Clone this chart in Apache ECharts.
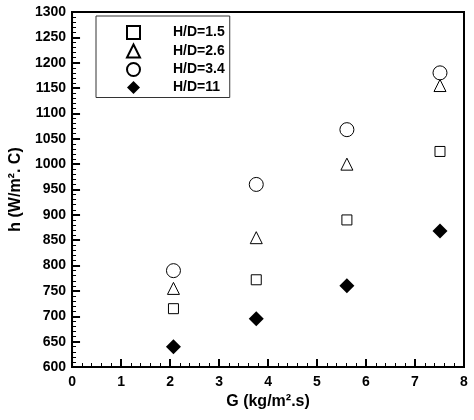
<!DOCTYPE html>
<html>
<head>
<meta charset="utf-8">
<script src="https://cdn.jsdelivr.net/npm/echarts@6/dist/echarts.min.js"></script>
<style>
  html, body { margin: 0; padding: 0; background: #fff; }
  #chart { width: 474px; height: 420px; }
</style>
</head>
<body>
<div id="chart"></div>
<script>
// G values (kg/m2.s)
var gValues = [2.07, 3.76, 5.61, 7.51];
// h values per H/D ratio
var hd15 = [715, 772, 890, 1025];
var hd26 = [755, 855, 1000, 1155];
var hd34 = [790, 960, 1068, 1180];
var hd11 = [640, 695, 760, 868];
var seriesNames = ['H/D=1.5', 'H/D=2.6', 'H/D=3.4', 'H/D=11'];

function pairs(ys) {
    var out = [];
    for (var i = 0; i < gValues.length; i++) {
        out.push([gValues[i], ys[i]]);
    }
    return out;
}

var font = 'Liberation Sans, Arial, sans-serif';
var hollow = { color: '#fff', borderColor: '#000', borderWidth: 1, opacity: 1 };
// split lines kept on but invisible
var noGrid = { show: true, lineStyle: { color: 'rgba(0,0,0,0)', width: 0 } };

var myChart = echarts.init(document.getElementById('chart'));
var option = {
    animation: false,
    grid: { left: 72, right: 10, top: 12, bottom: 53, show: true, borderColor: '#000', borderWidth: 2 },
    legend: {
        orient: 'vertical',
        left: 96, top: 16,
        padding: [9, 5, 3, 30],
        itemWidth: 13, itemHeight: 13, itemGap: 3.5,
        symbolKeepAspect: true,
        borderColor: '#333', borderWidth: 1,
        backgroundColor: '#fff',
        formatter: function (name) { return '{t|' + name + '}'; },
        textStyle: {
            fontFamily: font, fontWeight: 'bold', fontSize: 14, color: '#000',
            rich: { t: { fontFamily: font, fontWeight: 'bold', fontSize: 14, color: '#000', padding: [0, 0, 0, 28] } }
        },
        data: seriesNames
    },
    xAxis: [{
        type: 'value', min: 0, max: 8, interval: 1,
        name: 'G (kg/m\u00b2.s)', nameLocation: 'middle', nameGap: 26,
        nameTextStyle: { fontFamily: font, fontWeight: 'bold', fontSize: 16, color: '#000' },
        axisLine: { show: true, lineStyle: { color: '#000', width: 2 } },
        axisTick: { show: true, inside: true, length: 8, lineStyle: { color: '#000', width: 2 } },
        minorTick: { show: true, splitNumber: 5, length: 4, lineStyle: { color: '#000', width: 1 } },
        splitLine: noGrid,
        axisLabel: { fontFamily: font, fontWeight: 'bold', fontSize: 14, color: '#000', margin: 8 }
    }],
    yAxis: [{
        type: 'value', min: 600, max: 1300, interval: 50,
        name: 'h (W/m\u00b2. C)', nameLocation: 'middle', nameGap: 44,
        nameTextStyle: { fontFamily: font, fontWeight: 'bold', fontSize: 16, color: '#000' },
        axisLine: { show: true, lineStyle: { color: '#000', width: 2 } },
        axisTick: { show: true, inside: true, length: 8, lineStyle: { color: '#000', width: 2 } },
        minorTick: { show: true, splitNumber: 5, length: 4, lineStyle: { color: '#000', width: 1 } },
        splitLine: noGrid,
        axisLabel: {
            fontFamily: font, fontWeight: 'bold', fontSize: 14, color: '#000', margin: 6,
            formatter: function (v) { return String(v); }
        }
    }],
    series: [
        { name: seriesNames[0], type: 'scatter', symbol: 'rect', symbolSize: 10, symbolKeepAspect: true, itemStyle: hollow, data: pairs(hd15) },
        { name: seriesNames[1], type: 'scatter', symbol: 'triangle', symbolSize: 12, symbolKeepAspect: true, itemStyle: hollow, data: pairs(hd26) },
        { name: seriesNames[2], type: 'scatter', symbol: 'circle', symbolSize: 14, symbolKeepAspect: true, itemStyle: hollow, data: pairs(hd34) },
        { name: seriesNames[3], type: 'scatter', symbol: 'diamond', symbolSize: 15, symbolKeepAspect: true, itemStyle: { color: '#000', opacity: 1 }, data: pairs(hd11) }
    ]
};
myChart.setOption(option);
</script>
</body>
</html>
